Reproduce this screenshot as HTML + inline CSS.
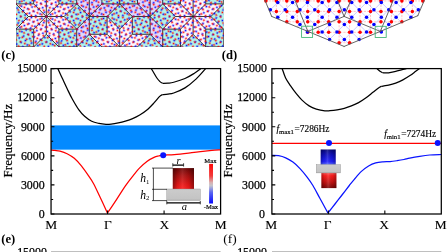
<!DOCTYPE html>
<html><head><meta charset="utf-8"><title>figure</title>
<style>html,body{margin:0;padding:0;background:#fff;overflow:hidden}body{width:448px;height:252px;position:relative}</style></head>
<body>
<svg width="448" height="252" viewBox="0 0 448 252" style="position:absolute;left:0;top:0">
<defs>
<clipPath id="ca"><rect x="16.0" y="0" width="207.7" height="46.9"/></clipPath>
<pattern id="pr" width="4.74" height="4.74" patternUnits="userSpaceOnUse" patternTransform="translate(46.3 16.5) rotate(22.5) translate(-2.37 -2.37)"><circle cx="2.37" cy="2.37" r="1.0" fill="#ff0000"/></pattern>
<pattern id="pb" width="4.74" height="4.74" patternUnits="userSpaceOnUse" patternTransform="translate(46.3 16.5) rotate(-22.5) translate(-2.37 -2.37)"><circle cx="2.37" cy="2.37" r="1.0" fill="#0000ff"/></pattern>
<clipPath id="cb"><polygon points="264.20,-1.00 271.20,16.30 344.10,46.30 417.80,15.70 424.60,-1.00"/></clipPath>
<linearGradient id="gcyl" x1="0" x2="0" y1="0" y2="1"><stop offset="0" stop-color="#700606"/><stop offset="0.35" stop-color="#ac1010"/><stop offset="0.75" stop-color="#e61414"/><stop offset="1" stop-color="#ff1a1a"/></linearGradient>
<linearGradient id="gcylv" x1="0" x2="1" y1="0" y2="0"><stop offset="0" stop-color="#000" stop-opacity="0.4"/><stop offset="0.22" stop-color="#000" stop-opacity="0.08"/><stop offset="0.45" stop-color="#fff" stop-opacity="0.1"/><stop offset="0.75" stop-color="#000" stop-opacity="0.08"/><stop offset="1" stop-color="#000" stop-opacity="0.4"/></linearGradient>
<linearGradient id="gbar" x1="0" x2="0" y1="0" y2="1"><stop offset="0" stop-color="#ff0808"/><stop offset="0.3" stop-color="#f23a3a"/><stop offset="0.47" stop-color="#d8b0b0"/><stop offset="0.55" stop-color="#c4c4cc"/><stop offset="0.72" stop-color="#5a66f0"/><stop offset="1" stop-color="#0808ff"/></linearGradient>
<linearGradient id="gblue" x1="0" x2="0" y1="0" y2="1"><stop offset="0" stop-color="#06067a"/><stop offset="0.4" stop-color="#1010c8"/><stop offset="0.8" stop-color="#2020ff"/><stop offset="1" stop-color="#5a6aff"/></linearGradient>
<linearGradient id="gbluev" x1="0" x2="1" y1="0" y2="0"><stop offset="0" stop-color="#000" stop-opacity="0.3"/><stop offset="0.2" stop-color="#000" stop-opacity="0.05"/><stop offset="0.45" stop-color="#fff" stop-opacity="0.15"/><stop offset="0.75" stop-color="#000" stop-opacity="0.05"/><stop offset="1" stop-color="#000" stop-opacity="0.3"/></linearGradient>
<linearGradient id="gred2" x1="0" x2="0" y1="0" y2="1"><stop offset="0" stop-color="#ff5a5a"/><stop offset="0.2" stop-color="#ff1c1c"/><stop offset="0.6" stop-color="#c81010"/><stop offset="1" stop-color="#7a0606"/></linearGradient>
<linearGradient id="gred2v" x1="0" x2="1" y1="0" y2="0"><stop offset="0" stop-color="#000" stop-opacity="0.3"/><stop offset="0.2" stop-color="#000" stop-opacity="0.05"/><stop offset="0.45" stop-color="#fff" stop-opacity="0.15"/><stop offset="0.75" stop-color="#000" stop-opacity="0.05"/><stop offset="1" stop-color="#000" stop-opacity="0.3"/></linearGradient>
<linearGradient id="ggray" x1="0" x2="0" y1="0" y2="1"><stop offset="0" stop-color="#cccccc"/><stop offset="0.85" stop-color="#c4c4c4"/><stop offset="1" stop-color="#b4b4b4"/></linearGradient>
</defs>
<g clip-path="url(#ca)">
<rect x="16.0" y="0" width="207.7" height="46.9" fill="#b2f4e8"/>
<polygon points="76.7,29.1 89.3,16.5 89.3,34.3 76.7,46.9" fill="#e0d8fc"/>
<polygon points="58.9,46.9 76.7,46.9 64.1,59.5 46.3,59.5" fill="#e0d8fc"/>
<polygon points="33.7,46.9 46.3,59.5 28.5,59.5 15.9,46.9" fill="#e0d8fc"/>
<polygon points="15.9,29.1 15.9,46.9 3.3,34.3 3.3,16.5" fill="#e0d8fc"/>
<polygon points="15.9,3.9 3.3,16.5 3.3,-1.3 15.9,-13.9" fill="#e0d8fc"/>
<polygon points="33.7,-13.9 15.9,-13.9 28.5,-26.5 46.3,-26.5" fill="#e0d8fc"/>
<polygon points="58.9,-13.9 46.3,-26.5 64.1,-26.5 76.7,-13.9" fill="#e0d8fc"/>
<polygon points="76.7,3.9 76.7,-13.9 89.3,-1.3 89.3,16.5" fill="#e0d8fc"/>
<polygon points="64.1,16.5 76.7,29.1 89.3,16.5 76.7,3.9" fill="#b2f4e8"/>
<polygon points="58.9,29.1 58.9,46.9 76.7,46.9 76.7,29.1" fill="#b2f4e8"/>
<polygon points="46.3,34.3 33.7,46.9 46.3,59.5 58.9,46.9" fill="#b2f4e8"/>
<polygon points="33.7,29.1 15.9,29.1 15.9,46.9 33.7,46.9" fill="#b2f4e8"/>
<polygon points="28.5,16.5 15.9,3.9 3.3,16.5 15.9,29.1" fill="#b2f4e8"/>
<polygon points="33.7,3.9 33.7,-13.9 15.9,-13.9 15.9,3.9" fill="#b2f4e8"/>
<polygon points="46.3,-1.3 58.9,-13.9 46.3,-26.5 33.7,-13.9" fill="#b2f4e8"/>
<polygon points="58.9,3.9 76.7,3.9 76.7,-13.9 58.9,-13.9" fill="#b2f4e8"/>
<polygon points="46.3,16.5 64.1,16.5 76.7,29.1 58.9,29.1" fill="#fff7fa"/>
<polygon points="46.3,16.5 58.9,29.1 58.9,46.9 46.3,34.3" fill="#fff7fa"/>
<polygon points="46.3,16.5 46.3,34.3 33.7,46.9 33.7,29.1" fill="#fff7fa"/>
<polygon points="46.3,16.5 33.7,29.1 15.9,29.1 28.5,16.5" fill="#fff7fa"/>
<polygon points="46.3,16.5 28.5,16.5 15.9,3.9 33.7,3.9" fill="#fff7fa"/>
<polygon points="46.3,16.5 33.7,3.9 33.7,-13.9 46.3,-1.3" fill="#fff7fa"/>
<polygon points="46.3,16.5 46.3,-1.3 58.9,-13.9 58.9,3.9" fill="#fff7fa"/>
<polygon points="46.3,16.5 58.9,3.9 76.7,3.9 64.1,16.5" fill="#fff7fa"/>
<polygon points="223.5,29.1 236.1,16.5 236.1,34.3 223.5,46.9" fill="#e0d8fc"/>
<polygon points="205.7,46.9 223.5,46.9 210.9,59.5 193.1,59.5" fill="#e0d8fc"/>
<polygon points="180.5,46.9 193.1,59.5 175.3,59.5 162.7,46.9" fill="#e0d8fc"/>
<polygon points="162.7,29.1 162.7,46.9 150.1,34.3 150.1,16.5" fill="#e0d8fc"/>
<polygon points="162.7,3.9 150.1,16.5 150.1,-1.3 162.7,-13.9" fill="#e0d8fc"/>
<polygon points="180.5,-13.9 162.7,-13.9 175.3,-26.5 193.1,-26.5" fill="#e0d8fc"/>
<polygon points="205.7,-13.9 193.1,-26.5 210.9,-26.5 223.5,-13.9" fill="#e0d8fc"/>
<polygon points="223.5,3.9 223.5,-13.9 236.1,-1.3 236.1,16.5" fill="#e0d8fc"/>
<polygon points="210.9,16.5 223.5,29.1 236.1,16.5 223.5,3.9" fill="#b2f4e8"/>
<polygon points="205.7,29.1 205.7,46.9 223.5,46.9 223.5,29.1" fill="#b2f4e8"/>
<polygon points="193.1,34.3 180.5,46.9 193.1,59.5 205.7,46.9" fill="#b2f4e8"/>
<polygon points="180.5,29.1 162.7,29.1 162.7,46.9 180.5,46.9" fill="#b2f4e8"/>
<polygon points="175.3,16.5 162.7,3.9 150.1,16.5 162.7,29.1" fill="#b2f4e8"/>
<polygon points="180.5,3.9 180.5,-13.9 162.7,-13.9 162.7,3.9" fill="#b2f4e8"/>
<polygon points="193.1,-1.3 205.7,-13.9 193.1,-26.5 180.5,-13.9" fill="#b2f4e8"/>
<polygon points="205.7,3.9 223.5,3.9 223.5,-13.9 205.7,-13.9" fill="#b2f4e8"/>
<polygon points="193.1,16.5 210.9,16.5 223.5,29.1 205.7,29.1" fill="#fff7fa"/>
<polygon points="193.1,16.5 205.7,29.1 205.7,46.9 193.1,34.3" fill="#fff7fa"/>
<polygon points="193.1,16.5 193.1,34.3 180.5,46.9 180.5,29.1" fill="#fff7fa"/>
<polygon points="193.1,16.5 180.5,29.1 162.7,29.1 175.3,16.5" fill="#fff7fa"/>
<polygon points="193.1,16.5 175.3,16.5 162.7,3.9 180.5,3.9" fill="#fff7fa"/>
<polygon points="193.1,16.5 180.5,3.9 180.5,-13.9 193.1,-1.3" fill="#fff7fa"/>
<polygon points="193.1,16.5 193.1,-1.3 205.7,-13.9 205.7,3.9" fill="#fff7fa"/>
<polygon points="193.1,16.5 205.7,3.9 223.5,3.9 210.9,16.5" fill="#fff7fa"/>
<polygon points="150.1,59.5 162.7,46.9 162.7,64.7 150.1,77.3" fill="#e0d8fc"/>
<polygon points="132.3,77.3 150.1,77.3 137.5,89.9 119.7,89.9" fill="#e0d8fc"/>
<polygon points="107.1,77.3 119.7,89.9 101.9,89.9 89.3,77.3" fill="#e0d8fc"/>
<polygon points="89.3,59.5 89.3,77.3 76.7,64.7 76.7,46.9" fill="#e0d8fc"/>
<polygon points="107.1,16.5 89.3,16.5 101.9,3.9 119.7,3.9" fill="#e0d8fc"/>
<polygon points="132.3,16.5 119.7,3.9 137.5,3.9 150.1,16.5" fill="#e0d8fc"/>
<polygon points="137.5,46.9 150.1,59.5 162.7,46.9 150.1,34.3" fill="#b2f4e8"/>
<polygon points="132.3,59.5 132.3,77.3 150.1,77.3 150.1,59.5" fill="#b2f4e8"/>
<polygon points="119.7,64.7 107.1,77.3 119.7,89.9 132.3,77.3" fill="#b2f4e8"/>
<polygon points="107.1,59.5 89.3,59.5 89.3,77.3 107.1,77.3" fill="#b2f4e8"/>
<polygon points="101.9,46.9 89.3,34.3 76.7,46.9 89.3,59.5" fill="#b2f4e8"/>
<polygon points="107.1,34.3 107.1,16.5 89.3,16.5 89.3,34.3" fill="#b2f4e8"/>
<polygon points="119.7,29.1 132.3,16.5 119.7,3.9 107.1,16.5" fill="#b2f4e8"/>
<polygon points="132.3,34.3 150.1,34.3 150.1,16.5 132.3,16.5" fill="#b2f4e8"/>
<polygon points="119.7,46.9 137.5,46.9 150.1,59.5 132.3,59.5" fill="#fff7fa"/>
<polygon points="119.7,46.9 132.3,59.5 132.3,77.3 119.7,64.7" fill="#fff7fa"/>
<polygon points="119.7,46.9 119.7,64.7 107.1,77.3 107.1,59.5" fill="#fff7fa"/>
<polygon points="119.7,46.9 107.1,59.5 89.3,59.5 101.9,46.9" fill="#fff7fa"/>
<polygon points="119.7,46.9 101.9,46.9 89.3,34.3 107.1,34.3" fill="#fff7fa"/>
<polygon points="119.7,46.9 107.1,34.3 107.1,16.5 119.7,29.1" fill="#fff7fa"/>
<polygon points="119.7,46.9 119.7,29.1 132.3,16.5 132.3,34.3" fill="#fff7fa"/>
<polygon points="119.7,46.9 132.3,34.3 150.1,34.3 137.5,46.9" fill="#fff7fa"/>
<polygon points="89.3,16.5 101.9,3.9 101.9,-13.9 89.3,-1.3" fill="#e0d8fc"/>
<polygon points="150.1,16.5 137.5,3.9 137.5,-13.9 150.1,-1.3" fill="#e0d8fc"/>
<polygon points="101.9,3.9 119.7,3.9 119.7,-13.9 101.9,-13.9" fill="#b2f4e8"/>
<polygon points="137.5,3.9 119.7,3.9 119.7,-13.9 137.5,-13.9" fill="#b2f4e8"/>
<path d="M76.7,29.1L89.3,16.5M89.3,16.5L89.3,34.3M89.3,34.3L76.7,46.9M76.7,46.9L76.7,29.1M58.9,46.9L76.7,46.9M76.7,46.9L64.1,59.5M46.3,59.5L58.9,46.9M33.7,46.9L46.3,59.5M28.5,59.5L15.9,46.9M15.9,46.9L33.7,46.9M15.9,29.1L15.9,46.9M15.9,46.9L3.3,34.3M3.3,16.5L15.9,29.1M15.9,3.9L3.3,16.5M15.9,-13.9L15.9,3.9M76.7,3.9L76.7,-13.9M89.3,-1.3L89.3,16.5M89.3,16.5L76.7,3.9M64.1,16.5L76.7,29.1M76.7,3.9L64.1,16.5M58.9,29.1L58.9,46.9M76.7,29.1L58.9,29.1M46.3,34.3L33.7,46.9M58.9,46.9L46.3,34.3M33.7,29.1L15.9,29.1M33.7,46.9L33.7,29.1M28.5,16.5L15.9,3.9M15.9,29.1L28.5,16.5M33.7,3.9L33.7,-13.9M15.9,3.9L33.7,3.9M58.9,3.9L76.7,3.9M58.9,-13.9L58.9,3.9M64.1,16.5L46.3,16.5M46.3,16.5L58.9,29.1M46.3,16.5L46.3,34.3M46.3,16.5L33.7,29.1M46.3,16.5L28.5,16.5M46.3,16.5L33.7,3.9M46.3,16.5L46.3,-1.3M46.3,16.5L58.9,3.9M223.5,29.1L236.1,16.5M236.1,34.3L223.5,46.9M223.5,46.9L223.5,29.1M205.7,46.9L223.5,46.9M223.5,46.9L210.9,59.5M193.1,59.5L205.7,46.9M180.5,46.9L193.1,59.5M175.3,59.5L162.7,46.9M162.7,46.9L180.5,46.9M162.7,29.1L162.7,46.9M162.7,46.9L150.1,34.3M150.1,34.3L150.1,16.5M150.1,16.5L162.7,29.1M162.7,3.9L150.1,16.5M150.1,-1.3L150.1,16.5M162.7,-13.9L162.7,3.9M223.5,3.9L223.5,-13.9M236.1,16.5L223.5,3.9M210.9,16.5L223.5,29.1M223.5,3.9L210.9,16.5M205.7,29.1L205.7,46.9M223.5,29.1L205.7,29.1M193.1,34.3L180.5,46.9M205.7,46.9L193.1,34.3M180.5,29.1L162.7,29.1M180.5,46.9L180.5,29.1M175.3,16.5L162.7,3.9M162.7,29.1L175.3,16.5M180.5,3.9L180.5,-13.9M162.7,3.9L180.5,3.9M205.7,3.9L223.5,3.9M205.7,-13.9L205.7,3.9M210.9,16.5L193.1,16.5M193.1,16.5L205.7,29.1M193.1,16.5L193.1,34.3M193.1,16.5L180.5,29.1M193.1,16.5L175.3,16.5M193.1,16.5L180.5,3.9M193.1,16.5L193.1,-1.3M193.1,16.5L205.7,3.9M150.1,59.5L162.7,46.9M162.7,46.9L162.7,64.7M76.7,64.7L76.7,46.9M76.7,46.9L89.3,59.5M107.1,16.5L89.3,16.5M89.3,16.5L101.9,3.9M101.9,3.9L119.7,3.9M119.7,3.9L107.1,16.5M132.3,16.5L119.7,3.9M137.5,3.9L119.7,3.9M150.1,16.5L137.5,3.9M150.1,16.5L132.3,16.5M137.5,46.9L150.1,59.5M150.1,34.3L137.5,46.9M101.9,46.9L89.3,34.3M89.3,59.5L101.9,46.9M107.1,34.3L107.1,16.5M89.3,34.3L107.1,34.3M119.7,29.1L132.3,16.5M107.1,16.5L119.7,29.1M132.3,34.3L150.1,34.3M132.3,16.5L132.3,34.3M137.5,46.9L119.7,46.9M119.7,46.9L132.3,59.5M119.7,46.9L119.7,64.7M119.7,46.9L107.1,59.5M119.7,46.9L101.9,46.9M119.7,46.9L107.1,34.3M119.7,46.9L119.7,29.1M119.7,46.9L132.3,34.3M101.9,-13.9L101.9,3.9M137.5,-13.9L137.5,3.9M119.7,3.9L119.7,-13.9" stroke="#1c1e18" stroke-width="0.85" stroke-linecap="butt" fill="none"/>
<rect x="0" y="-5" width="240" height="60" fill="url(#pb)"/>
<rect x="0" y="-5" width="240" height="60" fill="url(#pr)"/>
</g>
<g clip-path="url(#cb)">
<rect x="255" y="0" width="180" height="50" fill="#fff"/>
<line x1="255.44" y1="-2" x2="255.44" y2="50" stroke="#ffc4c4" stroke-width="1" stroke-dasharray="2.2 1.2"/>
<line x1="265.90" y1="-2" x2="265.90" y2="50" stroke="#ffc4c4" stroke-width="1" stroke-dasharray="2.2 1.2"/>
<line x1="276.36" y1="-2" x2="276.36" y2="50" stroke="#ffc4c4" stroke-width="1" stroke-dasharray="2.2 1.2"/>
<line x1="286.82" y1="-2" x2="286.82" y2="50" stroke="#ffc4c4" stroke-width="1" stroke-dasharray="2.2 1.2"/>
<line x1="297.28" y1="-2" x2="297.28" y2="50" stroke="#ffc4c4" stroke-width="1" stroke-dasharray="2.2 1.2"/>
<line x1="307.74" y1="-2" x2="307.74" y2="50" stroke="#ffc4c4" stroke-width="1" stroke-dasharray="2.2 1.2"/>
<line x1="318.20" y1="-2" x2="318.20" y2="50" stroke="#ffc4c4" stroke-width="1" stroke-dasharray="2.2 1.2"/>
<line x1="328.66" y1="-2" x2="328.66" y2="50" stroke="#ffc4c4" stroke-width="1" stroke-dasharray="2.2 1.2"/>
<line x1="339.12" y1="-2" x2="339.12" y2="50" stroke="#ffc4c4" stroke-width="1" stroke-dasharray="2.2 1.2"/>
<line x1="349.58" y1="-2" x2="349.58" y2="50" stroke="#ffc4c4" stroke-width="1" stroke-dasharray="2.2 1.2"/>
<line x1="360.04" y1="-2" x2="360.04" y2="50" stroke="#ffc4c4" stroke-width="1" stroke-dasharray="2.2 1.2"/>
<line x1="370.50" y1="-2" x2="370.50" y2="50" stroke="#ffc4c4" stroke-width="1" stroke-dasharray="2.2 1.2"/>
<line x1="380.96" y1="-2" x2="380.96" y2="50" stroke="#ffc4c4" stroke-width="1" stroke-dasharray="2.2 1.2"/>
<line x1="391.42" y1="-2" x2="391.42" y2="50" stroke="#ffc4c4" stroke-width="1" stroke-dasharray="2.2 1.2"/>
<line x1="401.88" y1="-2" x2="401.88" y2="50" stroke="#ffc4c4" stroke-width="1" stroke-dasharray="2.2 1.2"/>
<line x1="412.34" y1="-2" x2="412.34" y2="50" stroke="#ffc4c4" stroke-width="1" stroke-dasharray="2.2 1.2"/>
<line x1="422.80" y1="-2" x2="422.80" y2="50" stroke="#ffc4c4" stroke-width="1" stroke-dasharray="2.2 1.2"/>
<line x1="433.26" y1="-2" x2="433.26" y2="50" stroke="#ffc4c4" stroke-width="1" stroke-dasharray="2.2 1.2"/>
<line x1="255" y1="-9.54" x2="435" y2="-9.54" stroke="#ffc4c4" stroke-width="1" stroke-dasharray="2.2 1.2"/>
<line x1="255" y1="0.92" x2="435" y2="0.92" stroke="#ffc4c4" stroke-width="1" stroke-dasharray="2.2 1.2"/>
<line x1="255" y1="11.38" x2="435" y2="11.38" stroke="#ffc4c4" stroke-width="1" stroke-dasharray="2.2 1.2"/>
<line x1="255" y1="21.84" x2="435" y2="21.84" stroke="#ffc4c4" stroke-width="1" stroke-dasharray="2.2 1.2"/>
<line x1="255" y1="32.30" x2="435" y2="32.30" stroke="#ffc4c4" stroke-width="1" stroke-dasharray="2.2 1.2"/>
<line x1="255" y1="42.76" x2="435" y2="42.76" stroke="#ffc4c4" stroke-width="1" stroke-dasharray="2.2 1.2"/>
<line x1="255" y1="53.22" x2="435" y2="53.22" stroke="#ffc4c4" stroke-width="1" stroke-dasharray="2.2 1.2"/>
<line x1="-129.03" y1="-5" x2="-69.03" y2="55" stroke="#a9a9ff" stroke-width="0.6"/>
<line x1="-55.03" y1="-5" x2="-115.03" y2="55" stroke="#a9a9ff" stroke-width="0.6"/>
<line x1="-114.24" y1="-5" x2="-54.24" y2="55" stroke="#a9a9ff" stroke-width="0.6"/>
<line x1="-40.24" y1="-5" x2="-100.24" y2="55" stroke="#a9a9ff" stroke-width="0.6"/>
<line x1="-99.45" y1="-5" x2="-39.45" y2="55" stroke="#a9a9ff" stroke-width="0.6"/>
<line x1="-25.45" y1="-5" x2="-85.45" y2="55" stroke="#a9a9ff" stroke-width="0.6"/>
<line x1="-84.66" y1="-5" x2="-24.66" y2="55" stroke="#a9a9ff" stroke-width="0.6"/>
<line x1="-10.66" y1="-5" x2="-70.66" y2="55" stroke="#a9a9ff" stroke-width="0.6"/>
<line x1="-69.86" y1="-5" x2="-9.86" y2="55" stroke="#a9a9ff" stroke-width="0.6"/>
<line x1="4.14" y1="-5" x2="-55.86" y2="55" stroke="#a9a9ff" stroke-width="0.6"/>
<line x1="-55.07" y1="-5" x2="4.93" y2="55" stroke="#a9a9ff" stroke-width="0.6"/>
<line x1="18.93" y1="-5" x2="-41.07" y2="55" stroke="#a9a9ff" stroke-width="0.6"/>
<line x1="-40.28" y1="-5" x2="19.72" y2="55" stroke="#a9a9ff" stroke-width="0.6"/>
<line x1="33.72" y1="-5" x2="-26.28" y2="55" stroke="#a9a9ff" stroke-width="0.6"/>
<line x1="-25.49" y1="-5" x2="34.51" y2="55" stroke="#a9a9ff" stroke-width="0.6"/>
<line x1="48.51" y1="-5" x2="-11.49" y2="55" stroke="#a9a9ff" stroke-width="0.6"/>
<line x1="-10.69" y1="-5" x2="49.31" y2="55" stroke="#a9a9ff" stroke-width="0.6"/>
<line x1="63.31" y1="-5" x2="3.31" y2="55" stroke="#a9a9ff" stroke-width="0.6"/>
<line x1="4.10" y1="-5" x2="64.10" y2="55" stroke="#a9a9ff" stroke-width="0.6"/>
<line x1="78.10" y1="-5" x2="18.10" y2="55" stroke="#a9a9ff" stroke-width="0.6"/>
<line x1="18.89" y1="-5" x2="78.89" y2="55" stroke="#a9a9ff" stroke-width="0.6"/>
<line x1="92.89" y1="-5" x2="32.89" y2="55" stroke="#a9a9ff" stroke-width="0.6"/>
<line x1="33.69" y1="-5" x2="93.69" y2="55" stroke="#a9a9ff" stroke-width="0.6"/>
<line x1="107.69" y1="-5" x2="47.69" y2="55" stroke="#a9a9ff" stroke-width="0.6"/>
<line x1="48.48" y1="-5" x2="108.48" y2="55" stroke="#a9a9ff" stroke-width="0.6"/>
<line x1="122.48" y1="-5" x2="62.48" y2="55" stroke="#a9a9ff" stroke-width="0.6"/>
<line x1="63.27" y1="-5" x2="123.27" y2="55" stroke="#a9a9ff" stroke-width="0.6"/>
<line x1="137.27" y1="-5" x2="77.27" y2="55" stroke="#a9a9ff" stroke-width="0.6"/>
<line x1="78.06" y1="-5" x2="138.06" y2="55" stroke="#a9a9ff" stroke-width="0.6"/>
<line x1="152.06" y1="-5" x2="92.06" y2="55" stroke="#a9a9ff" stroke-width="0.6"/>
<line x1="92.86" y1="-5" x2="152.86" y2="55" stroke="#a9a9ff" stroke-width="0.6"/>
<line x1="166.86" y1="-5" x2="106.86" y2="55" stroke="#a9a9ff" stroke-width="0.6"/>
<line x1="107.65" y1="-5" x2="167.65" y2="55" stroke="#a9a9ff" stroke-width="0.6"/>
<line x1="181.65" y1="-5" x2="121.65" y2="55" stroke="#a9a9ff" stroke-width="0.6"/>
<line x1="122.44" y1="-5" x2="182.44" y2="55" stroke="#a9a9ff" stroke-width="0.6"/>
<line x1="196.44" y1="-5" x2="136.44" y2="55" stroke="#a9a9ff" stroke-width="0.6"/>
<line x1="137.23" y1="-5" x2="197.23" y2="55" stroke="#a9a9ff" stroke-width="0.6"/>
<line x1="211.23" y1="-5" x2="151.23" y2="55" stroke="#a9a9ff" stroke-width="0.6"/>
<line x1="152.03" y1="-5" x2="212.03" y2="55" stroke="#a9a9ff" stroke-width="0.6"/>
<line x1="226.03" y1="-5" x2="166.03" y2="55" stroke="#a9a9ff" stroke-width="0.6"/>
<line x1="166.82" y1="-5" x2="226.82" y2="55" stroke="#a9a9ff" stroke-width="0.6"/>
<line x1="240.82" y1="-5" x2="180.82" y2="55" stroke="#a9a9ff" stroke-width="0.6"/>
<line x1="181.61" y1="-5" x2="241.61" y2="55" stroke="#a9a9ff" stroke-width="0.6"/>
<line x1="255.61" y1="-5" x2="195.61" y2="55" stroke="#a9a9ff" stroke-width="0.6"/>
<line x1="196.40" y1="-5" x2="256.40" y2="55" stroke="#a9a9ff" stroke-width="0.6"/>
<line x1="270.40" y1="-5" x2="210.40" y2="55" stroke="#a9a9ff" stroke-width="0.6"/>
<line x1="211.20" y1="-5" x2="271.20" y2="55" stroke="#a9a9ff" stroke-width="0.6"/>
<line x1="285.20" y1="-5" x2="225.20" y2="55" stroke="#a9a9ff" stroke-width="0.6"/>
<line x1="225.99" y1="-5" x2="285.99" y2="55" stroke="#a9a9ff" stroke-width="0.6"/>
<line x1="299.99" y1="-5" x2="239.99" y2="55" stroke="#a9a9ff" stroke-width="0.6"/>
<line x1="240.78" y1="-5" x2="300.78" y2="55" stroke="#a9a9ff" stroke-width="0.6"/>
<line x1="314.78" y1="-5" x2="254.78" y2="55" stroke="#a9a9ff" stroke-width="0.6"/>
<line x1="255.58" y1="-5" x2="315.58" y2="55" stroke="#a9a9ff" stroke-width="0.6"/>
<line x1="329.58" y1="-5" x2="269.58" y2="55" stroke="#a9a9ff" stroke-width="0.6"/>
<line x1="270.37" y1="-5" x2="330.37" y2="55" stroke="#a9a9ff" stroke-width="0.6"/>
<line x1="344.37" y1="-5" x2="284.37" y2="55" stroke="#a9a9ff" stroke-width="0.6"/>
<line x1="285.16" y1="-5" x2="345.16" y2="55" stroke="#a9a9ff" stroke-width="0.6"/>
<line x1="359.16" y1="-5" x2="299.16" y2="55" stroke="#a9a9ff" stroke-width="0.6"/>
<line x1="299.95" y1="-5" x2="359.95" y2="55" stroke="#a9a9ff" stroke-width="0.6"/>
<line x1="373.95" y1="-5" x2="313.95" y2="55" stroke="#a9a9ff" stroke-width="0.6"/>
<line x1="314.75" y1="-5" x2="374.75" y2="55" stroke="#a9a9ff" stroke-width="0.6"/>
<line x1="388.75" y1="-5" x2="328.75" y2="55" stroke="#a9a9ff" stroke-width="0.6"/>
<line x1="329.54" y1="-5" x2="389.54" y2="55" stroke="#a9a9ff" stroke-width="0.6"/>
<line x1="403.54" y1="-5" x2="343.54" y2="55" stroke="#a9a9ff" stroke-width="0.6"/>
<line x1="344.33" y1="-5" x2="404.33" y2="55" stroke="#a9a9ff" stroke-width="0.6"/>
<line x1="418.33" y1="-5" x2="358.33" y2="55" stroke="#a9a9ff" stroke-width="0.6"/>
<line x1="359.12" y1="-5" x2="419.12" y2="55" stroke="#a9a9ff" stroke-width="0.6"/>
<line x1="433.12" y1="-5" x2="373.12" y2="55" stroke="#a9a9ff" stroke-width="0.6"/>
<line x1="373.92" y1="-5" x2="433.92" y2="55" stroke="#a9a9ff" stroke-width="0.6"/>
<line x1="447.92" y1="-5" x2="387.92" y2="55" stroke="#a9a9ff" stroke-width="0.6"/>
<line x1="388.71" y1="-5" x2="448.71" y2="55" stroke="#a9a9ff" stroke-width="0.6"/>
<line x1="462.71" y1="-5" x2="402.71" y2="55" stroke="#a9a9ff" stroke-width="0.6"/>
<line x1="403.50" y1="-5" x2="463.50" y2="55" stroke="#a9a9ff" stroke-width="0.6"/>
<line x1="477.50" y1="-5" x2="417.50" y2="55" stroke="#a9a9ff" stroke-width="0.6"/>
<line x1="418.30" y1="-5" x2="478.30" y2="55" stroke="#a9a9ff" stroke-width="0.6"/>
<line x1="492.30" y1="-5" x2="432.30" y2="55" stroke="#a9a9ff" stroke-width="0.6"/>
<line x1="433.09" y1="-5" x2="493.09" y2="55" stroke="#a9a9ff" stroke-width="0.6"/>
<line x1="507.09" y1="-5" x2="447.09" y2="55" stroke="#a9a9ff" stroke-width="0.6"/>
<line x1="447.88" y1="-5" x2="507.88" y2="55" stroke="#a9a9ff" stroke-width="0.6"/>
<line x1="521.88" y1="-5" x2="461.88" y2="55" stroke="#a9a9ff" stroke-width="0.6"/>
<line x1="462.67" y1="-5" x2="522.67" y2="55" stroke="#a9a9ff" stroke-width="0.6"/>
<line x1="536.67" y1="-5" x2="476.67" y2="55" stroke="#a9a9ff" stroke-width="0.6"/>
<line x1="477.47" y1="-5" x2="537.47" y2="55" stroke="#a9a9ff" stroke-width="0.6"/>
<line x1="551.47" y1="-5" x2="491.47" y2="55" stroke="#a9a9ff" stroke-width="0.6"/>
<line x1="492.26" y1="-5" x2="552.26" y2="55" stroke="#a9a9ff" stroke-width="0.6"/>
<line x1="566.26" y1="-5" x2="506.26" y2="55" stroke="#a9a9ff" stroke-width="0.6"/>
<line x1="507.05" y1="-5" x2="567.05" y2="55" stroke="#a9a9ff" stroke-width="0.6"/>
<line x1="581.05" y1="-5" x2="521.05" y2="55" stroke="#a9a9ff" stroke-width="0.6"/>
<line x1="521.84" y1="-5" x2="581.84" y2="55" stroke="#a9a9ff" stroke-width="0.6"/>
<line x1="595.84" y1="-5" x2="535.84" y2="55" stroke="#a9a9ff" stroke-width="0.6"/>
<line x1="536.64" y1="-5" x2="596.64" y2="55" stroke="#a9a9ff" stroke-width="0.6"/>
<line x1="610.64" y1="-5" x2="550.64" y2="55" stroke="#a9a9ff" stroke-width="0.6"/>
<line x1="551.43" y1="-5" x2="611.43" y2="55" stroke="#a9a9ff" stroke-width="0.6"/>
<line x1="625.43" y1="-5" x2="565.43" y2="55" stroke="#a9a9ff" stroke-width="0.6"/>
<line x1="566.22" y1="-5" x2="626.22" y2="55" stroke="#a9a9ff" stroke-width="0.6"/>
<line x1="640.22" y1="-5" x2="580.22" y2="55" stroke="#a9a9ff" stroke-width="0.6"/>
<line x1="581.01" y1="-5" x2="641.01" y2="55" stroke="#a9a9ff" stroke-width="0.6"/>
<line x1="655.01" y1="-5" x2="595.01" y2="55" stroke="#a9a9ff" stroke-width="0.6"/>
<line x1="595.81" y1="-5" x2="655.81" y2="55" stroke="#a9a9ff" stroke-width="0.6"/>
<line x1="669.81" y1="-5" x2="609.81" y2="55" stroke="#a9a9ff" stroke-width="0.6"/>
<line x1="610.60" y1="-5" x2="670.60" y2="55" stroke="#a9a9ff" stroke-width="0.6"/>
<line x1="684.60" y1="-5" x2="624.60" y2="55" stroke="#a9a9ff" stroke-width="0.6"/>
<line x1="625.39" y1="-5" x2="685.39" y2="55" stroke="#a9a9ff" stroke-width="0.6"/>
<line x1="699.39" y1="-5" x2="639.39" y2="55" stroke="#a9a9ff" stroke-width="0.6"/>
<line x1="640.19" y1="-5" x2="700.19" y2="55" stroke="#a9a9ff" stroke-width="0.6"/>
<line x1="714.19" y1="-5" x2="654.19" y2="55" stroke="#a9a9ff" stroke-width="0.6"/>
<line x1="654.98" y1="-5" x2="714.98" y2="55" stroke="#a9a9ff" stroke-width="0.6"/>
<line x1="728.98" y1="-5" x2="668.98" y2="55" stroke="#a9a9ff" stroke-width="0.6"/>
<line x1="669.77" y1="-5" x2="729.77" y2="55" stroke="#a9a9ff" stroke-width="0.6"/>
<line x1="743.77" y1="-5" x2="683.77" y2="55" stroke="#a9a9ff" stroke-width="0.6"/>
<line x1="684.56" y1="-5" x2="744.56" y2="55" stroke="#a9a9ff" stroke-width="0.6"/>
<line x1="758.56" y1="-5" x2="698.56" y2="55" stroke="#a9a9ff" stroke-width="0.6"/>
<line x1="699.36" y1="-5" x2="759.36" y2="55" stroke="#a9a9ff" stroke-width="0.6"/>
<line x1="773.36" y1="-5" x2="713.36" y2="55" stroke="#a9a9ff" stroke-width="0.6"/>
<line x1="714.15" y1="-5" x2="774.15" y2="55" stroke="#a9a9ff" stroke-width="0.6"/>
<line x1="788.15" y1="-5" x2="728.15" y2="55" stroke="#a9a9ff" stroke-width="0.6"/>
<line x1="728.94" y1="-5" x2="788.94" y2="55" stroke="#a9a9ff" stroke-width="0.6"/>
<line x1="802.94" y1="-5" x2="742.94" y2="55" stroke="#a9a9ff" stroke-width="0.6"/>
<line x1="743.73" y1="-5" x2="803.73" y2="55" stroke="#a9a9ff" stroke-width="0.6"/>
<line x1="817.73" y1="-5" x2="757.73" y2="55" stroke="#a9a9ff" stroke-width="0.6"/>
<line x1="758.53" y1="-5" x2="818.53" y2="55" stroke="#a9a9ff" stroke-width="0.6"/>
<line x1="832.53" y1="-5" x2="772.53" y2="55" stroke="#a9a9ff" stroke-width="0.6"/>
</g>
<circle cx="265.90" cy="0.92" r="1.75" fill="#f00"/>
<circle cx="276.36" cy="0.92" r="1.75" fill="#f00"/>
<circle cx="276.36" cy="11.38" r="1.75" fill="#f00"/>
<circle cx="286.82" cy="0.92" r="1.75" fill="#f00"/>
<circle cx="286.82" cy="11.38" r="1.75" fill="#f00"/>
<circle cx="286.82" cy="21.84" r="1.75" fill="#f00"/>
<circle cx="297.28" cy="0.92" r="1.75" fill="#f00"/>
<circle cx="297.28" cy="11.38" r="1.75" fill="#f00"/>
<circle cx="297.28" cy="21.84" r="1.75" fill="#f00"/>
<circle cx="307.74" cy="0.92" r="1.75" fill="#f00"/>
<circle cx="307.74" cy="11.38" r="1.75" fill="#f00"/>
<circle cx="307.74" cy="21.84" r="1.75" fill="#f00"/>
<circle cx="307.74" cy="32.30" r="1.75" fill="#f00"/>
<circle cx="318.20" cy="0.92" r="1.75" fill="#f00"/>
<circle cx="318.20" cy="11.38" r="1.75" fill="#f00"/>
<circle cx="318.20" cy="21.84" r="1.75" fill="#f00"/>
<circle cx="318.20" cy="32.30" r="1.75" fill="#f00"/>
<circle cx="328.66" cy="0.92" r="1.75" fill="#f00"/>
<circle cx="328.66" cy="11.38" r="1.75" fill="#f00"/>
<circle cx="328.66" cy="21.84" r="1.75" fill="#f00"/>
<circle cx="328.66" cy="32.30" r="1.75" fill="#f00"/>
<circle cx="339.12" cy="0.92" r="1.75" fill="#f00"/>
<circle cx="339.12" cy="11.38" r="1.75" fill="#f00"/>
<circle cx="339.12" cy="21.84" r="1.75" fill="#f00"/>
<circle cx="339.12" cy="32.30" r="1.75" fill="#f00"/>
<circle cx="339.12" cy="42.76" r="1.75" fill="#f00"/>
<circle cx="349.58" cy="0.92" r="1.75" fill="#f00"/>
<circle cx="349.58" cy="11.38" r="1.75" fill="#f00"/>
<circle cx="349.58" cy="21.84" r="1.75" fill="#f00"/>
<circle cx="349.58" cy="32.30" r="1.75" fill="#f00"/>
<circle cx="349.58" cy="42.76" r="1.75" fill="#f00"/>
<circle cx="360.04" cy="0.92" r="1.75" fill="#f00"/>
<circle cx="360.04" cy="11.38" r="1.75" fill="#f00"/>
<circle cx="360.04" cy="21.84" r="1.75" fill="#f00"/>
<circle cx="360.04" cy="32.30" r="1.75" fill="#f00"/>
<circle cx="370.50" cy="0.92" r="1.75" fill="#f00"/>
<circle cx="370.50" cy="11.38" r="1.75" fill="#f00"/>
<circle cx="370.50" cy="21.84" r="1.75" fill="#f00"/>
<circle cx="370.50" cy="32.30" r="1.75" fill="#f00"/>
<circle cx="380.96" cy="0.92" r="1.75" fill="#f00"/>
<circle cx="380.96" cy="11.38" r="1.75" fill="#f00"/>
<circle cx="380.96" cy="21.84" r="1.75" fill="#f00"/>
<circle cx="391.42" cy="0.92" r="1.75" fill="#f00"/>
<circle cx="391.42" cy="11.38" r="1.75" fill="#f00"/>
<circle cx="391.42" cy="21.84" r="1.75" fill="#f00"/>
<circle cx="401.88" cy="0.92" r="1.75" fill="#f00"/>
<circle cx="401.88" cy="11.38" r="1.75" fill="#f00"/>
<circle cx="401.88" cy="21.84" r="1.75" fill="#f00"/>
<circle cx="412.34" cy="0.92" r="1.75" fill="#f00"/>
<circle cx="412.34" cy="11.38" r="1.75" fill="#f00"/>
<circle cx="422.80" cy="0.92" r="1.75" fill="#f00"/>
<circle cx="270.39" cy="9.81" r="1.75" fill="#00f"/>
<circle cx="277.78" cy="2.41" r="1.75" fill="#00f"/>
<circle cx="277.78" cy="17.21" r="1.75" fill="#00f"/>
<circle cx="285.18" cy="9.81" r="1.75" fill="#00f"/>
<circle cx="292.58" cy="2.41" r="1.75" fill="#00f"/>
<circle cx="292.58" cy="17.21" r="1.75" fill="#00f"/>
<circle cx="299.97" cy="9.81" r="1.75" fill="#00f"/>
<circle cx="299.97" cy="24.60" r="1.75" fill="#00f"/>
<circle cx="307.37" cy="2.41" r="1.75" fill="#00f"/>
<circle cx="307.37" cy="17.21" r="1.75" fill="#00f"/>
<circle cx="307.37" cy="32.00" r="1.75" fill="#00f"/>
<circle cx="314.76" cy="9.81" r="1.75" fill="#00f"/>
<circle cx="314.76" cy="24.60" r="1.75" fill="#00f"/>
<circle cx="322.16" cy="2.41" r="1.75" fill="#00f"/>
<circle cx="322.16" cy="17.21" r="1.75" fill="#00f"/>
<circle cx="322.16" cy="32.00" r="1.75" fill="#00f"/>
<circle cx="329.56" cy="9.81" r="1.75" fill="#00f"/>
<circle cx="329.56" cy="24.60" r="1.75" fill="#00f"/>
<circle cx="329.56" cy="39.40" r="1.75" fill="#00f"/>
<circle cx="336.95" cy="2.41" r="1.75" fill="#00f"/>
<circle cx="336.95" cy="17.21" r="1.75" fill="#00f"/>
<circle cx="336.95" cy="32.00" r="1.75" fill="#00f"/>
<circle cx="344.35" cy="9.81" r="1.75" fill="#00f"/>
<circle cx="344.35" cy="24.60" r="1.75" fill="#00f"/>
<circle cx="344.35" cy="39.40" r="1.75" fill="#00f"/>
<circle cx="351.75" cy="2.41" r="1.75" fill="#00f"/>
<circle cx="351.75" cy="17.21" r="1.75" fill="#00f"/>
<circle cx="351.75" cy="32.00" r="1.75" fill="#00f"/>
<circle cx="359.14" cy="9.81" r="1.75" fill="#00f"/>
<circle cx="359.14" cy="24.60" r="1.75" fill="#00f"/>
<circle cx="359.14" cy="39.40" r="1.75" fill="#00f"/>
<circle cx="366.54" cy="2.41" r="1.75" fill="#00f"/>
<circle cx="366.54" cy="17.21" r="1.75" fill="#00f"/>
<circle cx="366.54" cy="32.00" r="1.75" fill="#00f"/>
<circle cx="373.94" cy="9.81" r="1.75" fill="#00f"/>
<circle cx="373.94" cy="24.60" r="1.75" fill="#00f"/>
<circle cx="381.33" cy="2.41" r="1.75" fill="#00f"/>
<circle cx="381.33" cy="17.21" r="1.75" fill="#00f"/>
<circle cx="381.33" cy="32.00" r="1.75" fill="#00f"/>
<circle cx="388.73" cy="9.81" r="1.75" fill="#00f"/>
<circle cx="388.73" cy="24.60" r="1.75" fill="#00f"/>
<circle cx="396.12" cy="2.41" r="1.75" fill="#00f"/>
<circle cx="396.12" cy="17.21" r="1.75" fill="#00f"/>
<circle cx="403.52" cy="9.81" r="1.75" fill="#00f"/>
<circle cx="410.92" cy="2.41" r="1.75" fill="#00f"/>
<circle cx="410.92" cy="17.21" r="1.75" fill="#00f"/>
<circle cx="418.31" cy="9.81" r="1.75" fill="#00f"/>
<g stroke="#555" stroke-width="0.9" fill="none" stroke-linecap="round">
<line x1="344.10" y1="16.43" x2="307.88" y2="31.43"/>
<line x1="307.88" y1="31.43" x2="344.10" y2="46.43"/>
<line x1="307.88" y1="31.43" x2="292.88" y2="-4.78"/>
<line x1="307.88" y1="31.43" x2="271.67" y2="16.43"/>
<line x1="271.67" y1="16.43" x2="256.67" y2="-19.78"/>
<line x1="344.10" y1="16.43" x2="329.10" y2="-19.78"/>
<line x1="344.10" y1="16.43" x2="380.32" y2="31.43"/>
<line x1="380.32" y1="31.43" x2="344.10" y2="46.43"/>
<line x1="380.32" y1="31.43" x2="395.32" y2="-4.78"/>
<line x1="380.32" y1="31.43" x2="417.80" y2="15.70"/>
<line x1="417.80" y1="15.70" x2="433.13" y2="-20.48"/>
<line x1="344.10" y1="16.43" x2="359.10" y2="-19.78"/>
</g>
<rect x="301.6" y="26.2" width="11" height="11.2" fill="none" stroke="#3cb371" stroke-width="0.85"/>
<rect x="375.2" y="26.3" width="11" height="11.2" fill="none" stroke="#3cb371" stroke-width="0.85"/>
<rect x="51.05" y="125.4" width="169.55" height="24.25" fill="#048aff"/>
<path d="M57.90,68.70C58.63,70.30 60.73,74.92 62.30,78.30C63.87,81.68 65.63,85.55 67.30,89.00C68.97,92.45 70.37,95.52 72.30,99.00C74.23,102.48 76.85,107.02 78.90,109.90C80.95,112.78 82.47,114.40 84.60,116.30C86.73,118.20 89.32,120.12 91.70,121.30C94.08,122.48 96.52,122.90 98.90,123.40C101.28,123.90 103.97,124.18 106.00,124.30C108.03,124.42 109.05,124.33 111.10,124.10C113.15,123.87 115.92,123.40 118.30,122.90C120.68,122.40 123.02,121.82 125.40,121.10C127.78,120.38 130.22,119.62 132.60,118.60C134.98,117.58 137.32,116.43 139.70,115.00C142.08,113.57 144.52,112.02 146.90,110.00C149.28,107.98 151.87,105.17 154.00,102.90C156.13,100.63 158.30,97.78 159.70,96.40C161.10,95.02 161.95,94.90 162.40,94.60" stroke="#000" stroke-width="1.25" fill="none"/>
<path d="M162.40,94.60C163.33,94.52 166.11,94.37 168.00,94.10C169.89,93.83 170.92,94.03 173.75,93.00C176.58,91.97 181.25,90.25 185.00,87.90C188.75,85.55 192.82,82.10 196.25,78.90C199.68,75.70 204.04,70.40 205.60,68.70" stroke="#000" stroke-width="1.25" fill="none"/>
<path d="M151.40,68.70C152.32,70.25 155.47,75.85 156.90,78.00C158.33,80.15 159.05,80.72 160.00,81.60C160.95,82.48 162.17,83.02 162.60,83.30" stroke="#000" stroke-width="1.25" fill="none"/>
<path d="M162.60,83.30C163.50,83.27 166.14,83.27 168.00,83.10C169.86,82.92 170.92,83.02 173.75,82.25C176.58,81.48 181.56,80.00 185.00,78.50C188.44,77.00 191.77,74.88 194.40,73.25C197.03,71.62 199.73,69.46 200.80,68.70" stroke="#000" stroke-width="1.25" fill="none"/>
<path d="M51.05,150.10C51.71,150.15 53.51,150.23 55.00,150.40C56.49,150.57 57.98,150.55 60.00,151.10C62.02,151.65 64.72,152.50 67.10,153.70C69.48,154.90 71.92,156.27 74.30,158.30C76.68,160.33 79.02,162.97 81.40,165.90C83.78,168.83 86.57,172.93 88.60,175.90C90.63,178.87 91.70,180.18 93.60,183.70C95.50,187.22 97.70,192.12 100.00,197.00C102.30,201.88 106.17,210.33 107.40,213.00" stroke="#f00" stroke-width="1.25" fill="none"/>
<path d="M107.40,213.00C108.17,211.88 110.12,209.10 112.00,206.30C113.88,203.50 116.47,199.60 118.70,196.20C120.93,192.80 123.08,189.20 125.40,185.90C127.72,182.60 130.22,179.40 132.60,176.40C134.98,173.40 137.32,170.40 139.70,167.90C142.08,165.40 144.52,163.15 146.90,161.40C149.28,159.65 152.07,158.30 154.00,157.40C155.93,156.50 156.95,156.37 158.50,156.00C160.05,155.63 160.67,155.43 163.30,155.20C165.93,154.97 170.08,154.95 174.30,154.60C178.52,154.25 183.83,153.65 188.60,153.10C193.37,152.55 199.00,151.75 202.90,151.30C206.80,150.85 209.05,150.65 212.00,150.40C214.95,150.15 219.17,149.90 220.60,149.80" stroke="#f00" stroke-width="1.25" fill="none"/>
<circle cx="163.2" cy="155.2" r="3" fill="#0a14ff"/>
<path d="M51.05,68.60h3.4M51.05,83.14h2.1M51.05,97.68h3.4M51.05,112.22h2.1M51.05,126.76h3.4M51.05,141.30h2.1M51.05,155.84h3.4M51.05,170.38h2.1M51.05,184.92h3.4M51.05,199.46h2.1M51.05,214.00h3.4M107.57,214.0v-3.4M164.08,214.0v-3.4" stroke="#000" stroke-width="1.1" fill="none"/>
<rect x="51.05" y="68.6" width="169.55" height="145.40" fill="none" stroke="#000" stroke-width="1.25"/>
<text x="46.9" y="72.35" font-family="'Liberation Serif', serif" font-size="11.9" text-anchor="end" stroke="#000" stroke-width="0.25">15000</text>
<text x="46.9" y="101.43" font-family="'Liberation Serif', serif" font-size="11.9" text-anchor="end" stroke="#000" stroke-width="0.25">12000</text>
<text x="44.7" y="130.51" font-family="'Liberation Serif', serif" font-size="11.9" text-anchor="end" stroke="#000" stroke-width="0.25">9000</text>
<text x="44.7" y="159.59" font-family="'Liberation Serif', serif" font-size="11.9" text-anchor="end" stroke="#000" stroke-width="0.25">6000</text>
<text x="44.7" y="188.67" font-family="'Liberation Serif', serif" font-size="11.9" text-anchor="end" stroke="#000" stroke-width="0.25">3000</text>
<text x="44.6" y="217.75" font-family="'Liberation Serif', serif" font-size="11.9" text-anchor="end" stroke="#000" stroke-width="0.25">0</text>
<text x="51.25" y="229.4" font-family="'Liberation Serif', serif" font-size="13.4" text-anchor="middle" stroke="#000" stroke-width="0.12">M</text>
<text x="107.77" y="229.4" font-family="'Liberation Serif', serif" font-size="13.4" text-anchor="middle" stroke="#000" stroke-width="0.12">Γ</text>
<text x="164.28" y="229.4" font-family="'Liberation Serif', serif" font-size="13.4" text-anchor="middle" stroke="#000" stroke-width="0.12">X</text>
<text x="220.80" y="229.4" font-family="'Liberation Serif', serif" font-size="13.4" text-anchor="middle" stroke="#000" stroke-width="0.12">M</text>
<text transform="translate(12.2 140.6) rotate(-90)" font-family="'Liberation Serif', serif" font-size="13" text-anchor="middle" stroke="#000" stroke-width="0.2">Frequency/Hz</text>
<rect x="172.8" y="168.1" width="21.2" height="20.9" fill="url(#gcyl)"/>
<rect x="172.8" y="168.1" width="21.2" height="20.9" fill="url(#gcylv)"/>
<rect x="166.8" y="189" width="33.5" height="11.4" fill="url(#ggray)" stroke="#8a8a8a" stroke-width="0.4"/>
<path d="M153.4,168.1V200.6M152,168.1H173M152,189.3H167M152,200.6H167M166.8,201v3.4M200.3,201v3.4M172.8,163.2v3.4M183.6,163.2v3.4" stroke="#000" stroke-width="0.7" fill="none"/>
<path d="M172.8,165.2H183.6M166.8,202.8H200.3" stroke="#000" stroke-width="1.3"/>
<rect x="209.1" y="163.9" width="3.9" height="39.6" fill="url(#gbar)"/>
<text x="210.4" y="162.7" font-family="'Liberation Serif', serif" font-size="6.6" text-anchor="middle" stroke="#000" stroke-width="0.2">Max</text>
<text x="211" y="209.2" font-family="'Liberation Serif', serif" font-size="6.6" text-anchor="middle" stroke="#000" stroke-width="0.2">-Max</text>
<text x="140.3" y="182.1" font-family="'Liberation Serif', serif" font-size="11.6" font-style="italic">h<tspan font-size="6.8" font-style="normal" dy="1.4">1</tspan></text>
<text x="140.3" y="198.8" font-family="'Liberation Serif', serif" font-size="11.6" font-style="italic">h<tspan font-size="6.8" font-style="normal" dy="1.4">2</tspan></text>
<text x="176.5" y="164.2" font-family="'Liberation Serif', serif" font-size="10.5" font-style="italic">r</text>
<text x="181.8" y="210.2" font-family="'Liberation Serif', serif" font-size="10.5" font-style="italic">a</text>
<path d="M282.20,68.70C282.77,70.25 284.20,75.13 285.60,78.00C287.00,80.87 288.82,83.28 290.60,85.90C292.38,88.52 294.40,91.33 296.30,93.70C298.20,96.07 299.87,98.07 302.00,100.10C304.13,102.13 306.72,104.40 309.10,105.90C311.48,107.40 313.67,108.27 316.30,109.10C318.93,109.93 322.62,110.63 324.90,110.90C327.18,111.17 327.97,110.88 330.00,110.70C332.03,110.52 334.72,110.20 337.10,109.80C339.48,109.40 341.92,108.95 344.30,108.30C346.68,107.65 349.02,106.85 351.40,105.90C353.78,104.95 356.22,103.92 358.60,102.60C360.98,101.28 363.32,99.72 365.70,98.00C368.08,96.28 370.77,93.98 372.90,92.30C375.03,90.62 377.12,88.88 378.50,87.90C379.88,86.92 380.75,86.65 381.20,86.40" stroke="#000" stroke-width="1.25" fill="none"/>
<path d="M381.20,86.40C381.67,86.32 382.77,86.10 384.00,85.90C385.23,85.70 386.65,85.67 388.60,85.20C390.55,84.73 393.32,83.98 395.70,83.10C398.08,82.22 400.52,81.15 402.90,79.90C405.28,78.65 407.87,77.03 410.00,75.60C412.13,74.17 414.15,72.45 415.70,71.30C417.25,70.15 418.70,69.13 419.30,68.70" stroke="#000" stroke-width="1.25" fill="none"/>
<path d="M377.10,68.70C377.58,69.13 379.08,70.63 380.00,71.30C380.92,71.97 382.17,72.47 382.60,72.70" stroke="#000" stroke-width="1.25" fill="none"/>
<path d="M382.60,72.70C383.60,72.72 386.42,73.02 388.60,72.80C390.78,72.58 393.57,71.88 395.70,71.40C397.83,70.92 399.62,70.35 401.40,69.90C403.18,69.45 405.57,68.90 406.40,68.70" stroke="#000" stroke-width="1.25" fill="none"/>
<path d="M271.90,155.40C273.02,155.45 276.30,155.28 278.60,155.70C280.90,156.12 283.32,156.83 285.70,157.90C288.08,158.97 290.52,160.32 292.90,162.10C295.28,163.88 297.63,166.10 300.00,168.60C302.37,171.10 304.95,174.28 307.10,177.10C309.25,179.92 310.75,181.93 312.90,185.50C315.05,189.07 317.50,193.92 320.00,198.50C322.50,203.08 326.58,210.58 327.90,213.00" stroke="#0a14ff" stroke-width="1.25" fill="none"/>
<path d="M327.90,213.00C329.08,211.50 332.65,207.00 335.00,204.00C337.35,201.00 339.62,198.08 342.00,195.00C344.38,191.92 347.25,188.12 349.30,185.50C351.35,182.88 352.28,181.65 354.30,179.30C356.32,176.95 359.02,173.62 361.40,171.40C363.78,169.18 366.22,167.42 368.60,166.00C370.98,164.58 373.32,163.60 375.70,162.90C378.08,162.20 380.52,162.02 382.90,161.80C385.28,161.58 387.63,161.78 390.00,161.60C392.37,161.42 394.77,161.05 397.10,160.70C399.43,160.35 401.90,159.93 404.00,159.50C406.10,159.07 407.08,158.63 409.70,158.10C412.32,157.57 416.37,156.82 419.70,156.30C423.03,155.78 426.10,155.30 429.70,155.00C433.30,154.70 439.37,154.58 441.30,154.50" stroke="#0a14ff" stroke-width="1.25" fill="none"/>
<path d="M271.9,143.3H441.3" stroke="#f00" stroke-width="1.25"/>
<circle cx="329" cy="143.1" r="3" fill="#0a14ff"/>
<circle cx="437.7" cy="143.1" r="3" fill="#0a14ff"/>
<path d="M271.9,68.60h3.4M271.9,83.14h2.1M271.9,97.68h3.4M271.9,112.22h2.1M271.9,126.76h3.4M271.9,141.30h2.1M271.9,155.84h3.4M271.9,170.38h2.1M271.9,184.92h3.4M271.9,199.46h2.1M271.9,214.00h3.4M328.37,214.0v-3.4M384.83,214.0v-3.4" stroke="#000" stroke-width="1.1" fill="none"/>
<rect x="271.9" y="68.6" width="169.40" height="145.40" fill="none" stroke="#000" stroke-width="1.25"/>
<text x="266.9" y="72.35" font-family="'Liberation Serif', serif" font-size="11.9" text-anchor="end" stroke="#000" stroke-width="0.25">15000</text>
<text x="266.9" y="101.43" font-family="'Liberation Serif', serif" font-size="11.9" text-anchor="end" stroke="#000" stroke-width="0.25">12000</text>
<text x="265.8" y="130.51" font-family="'Liberation Serif', serif" font-size="11.9" text-anchor="end" stroke="#000" stroke-width="0.25">9000</text>
<text x="265.8" y="159.59" font-family="'Liberation Serif', serif" font-size="11.9" text-anchor="end" stroke="#000" stroke-width="0.25">6000</text>
<text x="265.8" y="188.67" font-family="'Liberation Serif', serif" font-size="11.9" text-anchor="end" stroke="#000" stroke-width="0.25">3000</text>
<text x="264.9" y="217.75" font-family="'Liberation Serif', serif" font-size="11.9" text-anchor="end" stroke="#000" stroke-width="0.25">0</text>
<text x="271.20" y="229.4" font-family="'Liberation Serif', serif" font-size="13.4" text-anchor="middle" stroke="#000" stroke-width="0.12">M</text>
<text x="327.67" y="229.4" font-family="'Liberation Serif', serif" font-size="13.4" text-anchor="middle" stroke="#000" stroke-width="0.12">Γ</text>
<text x="384.13" y="229.4" font-family="'Liberation Serif', serif" font-size="13.4" text-anchor="middle" stroke="#000" stroke-width="0.12">X</text>
<text x="440.60" y="229.4" font-family="'Liberation Serif', serif" font-size="13.4" text-anchor="middle" stroke="#000" stroke-width="0.12">M</text>
<text transform="translate(232.4 140.6) rotate(-90)" font-family="'Liberation Serif', serif" font-size="13" text-anchor="middle" stroke="#000" stroke-width="0.2">Frequency/Hz</text>
<rect x="320.7" y="149.5" width="15" height="15.2" fill="url(#gblue)"/><rect x="320.7" y="149.5" width="15" height="15.2" fill="url(#gbluev)"/>
<rect x="321.4" y="172.6" width="15" height="15.5" fill="url(#gred2)"/><rect x="321.4" y="172.6" width="15" height="15.5" fill="url(#gred2v)"/>
<rect x="316.3" y="164.7" width="24.2" height="8.2" fill="url(#ggray)" stroke="#8a8a8a" stroke-width="0.4"/>
<text x="276.4" y="132" font-family="'Liberation Serif', serif" font-size="9.4" stroke="#000" stroke-width="0.15"><tspan font-style="italic">f</tspan><tspan font-size="6.7" dy="1.7">max1</tspan><tspan dy="-1.7" dx="0.6">=7286Hz</tspan></text>
<text x="384.2" y="136.9" font-family="'Liberation Serif', serif" font-size="9.4" stroke="#000" stroke-width="0.15"><tspan font-style="italic">f</tspan><tspan font-size="6.7" dy="1.7">min1</tspan><tspan dy="-1.7" dx="0.6">=7274Hz</tspan></text>
<text x="1.2" y="58.9" font-family="'Liberation Serif', serif" font-size="12.6" font-weight="bold">(c)</text>
<text x="221.8" y="58.9" font-family="'Liberation Serif', serif" font-size="12.6" font-weight="bold">(d)</text>
<text x="1.2" y="243.2" font-family="'Liberation Serif', serif" font-size="12.6" font-weight="bold">(e)</text>
<text x="223.3" y="242.6" font-family="'Liberation Serif', serif" font-size="13.4" font-weight="normal">(f)</text>
<text x="46.9" y="256.3" font-family="'Liberation Serif', serif" font-size="11.9" text-anchor="end" stroke="#000" stroke-width="0.25">15000</text>
<text x="266.9" y="256.3" font-family="'Liberation Serif', serif" font-size="11.9" text-anchor="end" stroke="#000" stroke-width="0.25">15000</text>
<path d="M51.05,252.3H220.6M271.9,252.3H441.3" stroke="#000" stroke-width="1.1" fill="none"/>
</svg>
</body></html>
